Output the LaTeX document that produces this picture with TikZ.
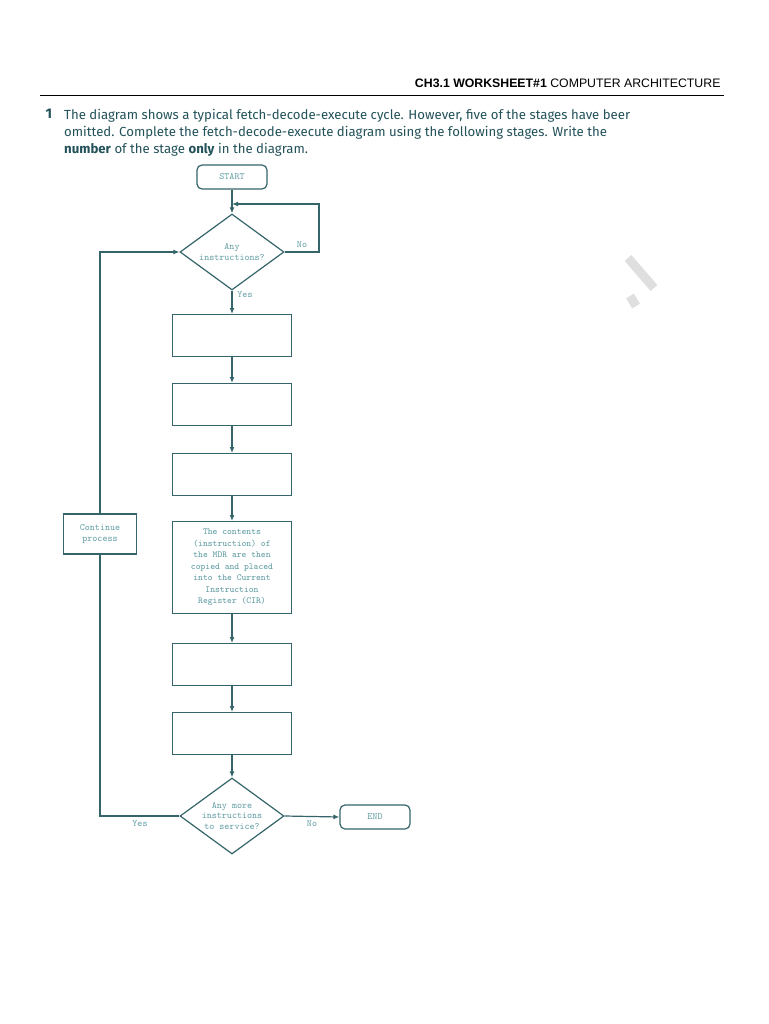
\documentclass[tikz,border=0pt]{standalone}
\usepackage{fontspec}
\setmainfont{Fira Sans}
\newfontfamily\hdfont{Liberation Sans}
\usetikzlibrary{shapes.geometric,arrows.meta}
\definecolor{ln}{HTML}{35646B}
\definecolor{tx}{HTML}{5F9CA2}
\definecolor{qt}{HTML}{23525A}
\tikzset{
  x=1pt,y=-1pt,
  box/.style={draw=ln,line width=1.2pt,minimum width=119pt,anchor=north,inner sep=0pt},
  dia/.style={draw=ln,line width=1.2pt,diamond,aspect=1.37,minimum width=104pt,minimum height=76pt,inner sep=0pt,align=center,font=\ttfamily\fontsize{9.6}{10.5}\selectfont,text=tx},
  term/.style={draw=ln,line width=1.2pt,rounded corners=5pt,minimum width=70pt,minimum height=24pt,font=\ttfamily\fontsize{9.6}{10}\selectfont,text=tx},
  lbl/.style={font=\ttfamily\fontsize{9.6}{10}\selectfont,text=tx},
  con/.style={draw=ln,line width=1.2pt,-{Latex[length=6pt,width=5pt]}},
  plain/.style={draw=ln,line width=1.2pt}
}
\begin{document}
\begin{tikzpicture}
\useasboundingbox (0,0) rectangle (768,1024);
\fill[white] (0,0) rectangle (768,1024);
% header
\node[anchor=east,font=\hdfont\fontsize{12.3}{14}\selectfont] (hd) at (724,83) {\textbf{CH3.1 WORKSHEET\#1} COMPUTER ARCHITECTURE};
\draw[line width=1pt] (40,96) -- (724,96);
% question
\node[anchor=north west,font=\bfseries\fontsize{14}{17}\selectfont,text=qt] (qn) at (42,106) {1};
\node[anchor=north west,align=left,font=\fontsize{13.2}{17}\selectfont,text=qt,inner sep=0pt] (qtext) at (64,109)
 {The diagram shows a typical fetch-decode-execute cycle. However, five of the stages have beer\\
  omitted. Complete the fetch-decode-execute diagram using the following stages. Write the\\
  \textbf{number} of the stage \textbf{only} in the diagram.};
% watermark
\draw[gray!25,line width=9pt] (628,258) -- (654,288);
\draw[gray!25,line width=9pt] (630,296) -- (636,306);
% nodes
\node[term] (start) at (232,177) {START};
\node[dia] (d1) at (232,252) {Any\\instructions?};
\node[box,minimum height=42pt] (b1) at (232,314) {};
\node[box,minimum height=42pt] (b2) at (232,383) {};
\node[box,minimum height=42pt] (b3) at (232,453) {};
\node[box,minimum height=92pt,align=center,font=\ttfamily\fontsize{9.2}{11.5}\selectfont,text=tx] (b4) at (232,521)
 {The contents\\(instruction) of\\the MDR are then\\copied and placed\\into the Current\\Instruction\\Register (CIR)};
\node[box,minimum height=42pt] (b5) at (232,643) {};
\node[box,minimum height=42pt] (b6) at (232,712) {};
\node[dia] (d2) at (232,816) {Any more\\instructions\\to service?};
\node[term] (end) at (375,817) {END};
\node[draw=ln,line width=1.2pt,minimum width=73pt,minimum height=40pt,align=center,font=\ttfamily\fontsize{9.6}{11}\selectfont,text=tx] (cont) at (100,534) {Continue\\process};
\coordinate (loop) at (232,204);
% connectors
\draw[plain] (start) -- (loop);
\draw[con] (loop) -- (d1.north);
\draw[con] (d1.east) -- (319,252) -- (319,204) -- (loop);
\draw[con] (d1.south) -- (b1.north);
\draw[con] (b1.south) -- (b2.north);
\draw[con] (b2.south) -- (b3.north);
\draw[con] (b3.south) -- (b4.north);
\draw[con] (b4.south) -- (b5.north);
\draw[con] (b5.south) -- (b6.north);
\draw[con] (b6.south) -- (d2.north);
\draw[con] (d2.east) -- (end.west);
\draw[plain] (d2.west) -| (cont.south);
\draw[con] (cont.north) |- (d1.west);
% labels
\node[lbl] (no1) at (302,245) {No};
\node[lbl] (yes1) at (245,295) {Yes};
\node[lbl] (yes2) at (140,824) {Yes};
\node[lbl] (no2) at (312,824) {No};
\end{tikzpicture}
\end{document}
